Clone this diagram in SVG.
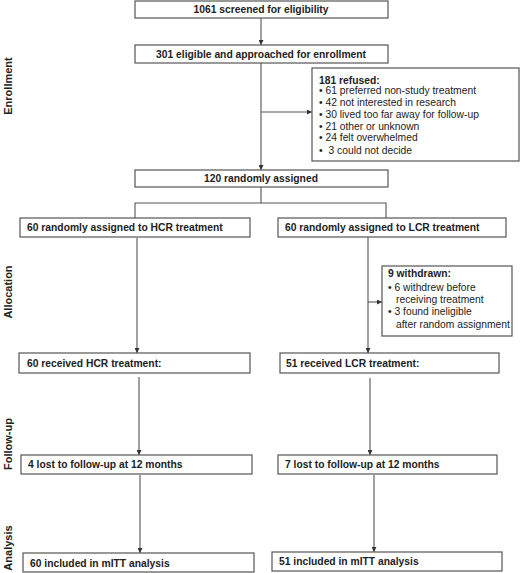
<svg xmlns="http://www.w3.org/2000/svg" width="520" height="573" viewBox="0 0 520 573">
<style>
.box{fill:#fff;stroke:#555;stroke-width:1.2}
.t{font-family:"Liberation Sans",Arial,sans-serif;font-size:10.3px;fill:#222}
.b{font-weight:bold}
.side{font-family:"Liberation Sans",Arial,sans-serif;font-size:11px;font-weight:bold;fill:#222}
.ln{stroke:#555;stroke-width:1.1;fill:none}
.ar{stroke:#555;stroke-width:1.1;fill:none;marker-end:url(#ah)}
</style>
<defs>
<marker id="ah" viewBox="0 0 8 8" refX="8" refY="4" markerWidth="5" markerHeight="5" markerUnits="userSpaceOnUse" orient="auto">
<path d="M0,0 L8,4 L0,8 z" fill="#333"/>
</marker>
</defs>
<rect width="520" height="573" fill="#fff"/>
<g id="labels">
<text class="side" transform="translate(12,86) rotate(-90)" text-anchor="middle">Enrollment</text>
<text class="side" transform="translate(12,292) rotate(-90)" text-anchor="middle">Allocation</text>
<text class="side" transform="translate(12,444) rotate(-90)" text-anchor="middle">Follow-up</text>
<text class="side" transform="translate(12,548) rotate(-90)" text-anchor="middle">Analysis</text>
</g>
<g id="connectors">
<line class="ar" x1="261" y1="18" x2="261" y2="45"/>
<line class="ar" x1="261" y1="63" x2="261" y2="170"/>
<line class="ar" x1="261" y1="112" x2="312" y2="112"/>
<line class="ln" x1="261" y1="187" x2="261" y2="203"/>
<polyline class="ln" points="135,218 135,203 386,203 386,218"/>
<line class="ar" x1="137" y1="238" x2="137" y2="353"/>
<line class="ar" x1="368" y1="237" x2="368" y2="353"/>
<line class="ar" x1="368" y1="302" x2="382" y2="302"/>
<line class="ar" x1="139" y1="377" x2="139" y2="455"/>
<line class="ar" x1="370" y1="378" x2="370" y2="455"/>
<line class="ar" x1="140" y1="475" x2="140" y2="553"/>
<line class="ar" x1="374" y1="475" x2="374" y2="552"/>
</g>
<g id="n1"><rect class="box" x="135" y="1" width="253" height="17"/><text class="t b" x="261" y="13" text-anchor="middle">1061 screened for eligibility</text></g>
<g id="n2"><rect class="box" x="135" y="45" width="253" height="18"/><text class="t b" x="261" y="58" text-anchor="middle">301 eligible and approached for enrollment</text></g>
<g id="n3"><rect class="box" x="312" y="68" width="207" height="93"/>
<text class="t b" x="319" y="84">181 refused:</text>
<text class="t" x="319" y="94">• 61 preferred non-study treatment</text>
<text class="t" x="319" y="106">• 42 not interested in research</text>
<text class="t" x="319" y="118">• 30 lived too far away for follow-up</text>
<text class="t" x="319" y="130">• 21 other or unknown</text>
<text class="t" x="319" y="141">• 24 felt overwhelmed</text>
<text class="t" x="319" y="154">• <tspan dx="3">3 could not decide</tspan></text>
</g>
<g id="n4"><rect class="box" x="135" y="170" width="253" height="17"/><text class="t b" x="261" y="182" text-anchor="middle">120 randomly assigned</text></g>
<g id="n5"><rect class="box" x="20" y="218" width="230" height="19"/><text class="t b" x="27" y="231">60 randomly assigned to HCR treatment</text></g>
<g id="n6"><rect class="box" x="278" y="218" width="228" height="19"/><text class="t b" x="285" y="231">60 randomly assigned to LCR treatment</text></g>
<g id="n7"><rect class="box" x="382" y="266" width="130" height="70"/>
<text class="t b" x="388" y="277">9 withdrawn:</text>
<text class="t" x="388" y="291">• 6 withdrew before</text>
<text class="t" x="396" y="303">receiving treatment</text>
<text class="t" x="388" y="315">• 3 found ineligible</text>
<text class="t" x="396" y="328">after random assignment</text>
</g>
<g id="n8"><rect class="box" x="19" y="353" width="231" height="20"/><text class="t b" x="27" y="367">60 received HCR treatment:</text></g>
<g id="n9"><rect class="box" x="280" y="353" width="219" height="20"/><text class="t b" x="286" y="367">51 received LCR treatment:</text></g>
<g id="n10"><rect class="box" x="21" y="455" width="231" height="19"/><text class="t b" x="28" y="468">4 lost to follow-up at 12 months</text></g>
<g id="n11"><rect class="box" x="278" y="455" width="219" height="19"/><text class="t b" x="285" y="468">7 lost to follow-up at 12 months</text></g>
<g id="n12"><rect class="box" x="23" y="553" width="231" height="19"/><text class="t b" x="30" y="567">60 included in mITT analysis</text></g>
<g id="n13"><rect class="box" x="272" y="552" width="230" height="19"/><text class="t b" x="279" y="565">51 included in mITT analysis</text></g>
</svg>
